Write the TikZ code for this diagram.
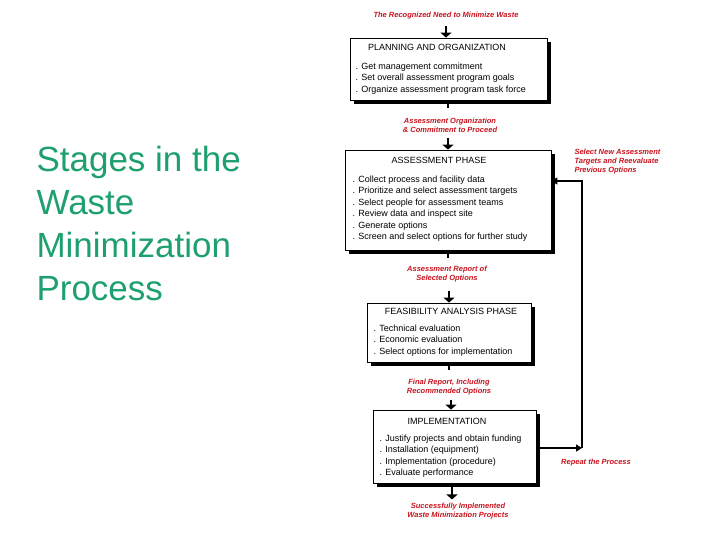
\documentclass[tikz,border=0pt]{standalone}
\usepackage{fontspec}
\setmainfont{Liberation Sans}
\usetikzlibrary{arrows.meta}
\definecolor{lab}{RGB}{200,20,30}
\definecolor{ttl}{RGB}{30,160,110}
\begin{document}
\begin{tikzpicture}[x=1pt,y=-1pt,
  phase/.style={draw,line width=0.8pt,fill=white,inner sep=0pt},
  lab/.style={text=lab,font=\fontsize{7.5}{9}\selectfont\bfseries\itshape,align=center},
  item/.style={font=\fontsize{9}{11.5}\selectfont,align=left,anchor=north west},
  hd/.style={font=\fontsize{9}{10}\selectfont,anchor=north},
  bar/.style={line width=2.4pt,-{Triangle[length=5pt,width=11pt]}},
  fb/.style={line width=1.3pt,-{Triangle[length=6pt,width=7pt]}}]
\useasboundingbox (0,0) rectangle (720,540);
% shadows
\foreach \a/\b/\c/\d in {350/38/547/100,345/150/551/250,367/303/531/362,373/410/536/483}
  \fill (\a+4,\b+4) rectangle (\c+4,\d+4);
\node[phase,minimum width=197pt,minimum height=62pt] (p1) at (448.5,69) {};
\node[phase,minimum width=206pt,minimum height=100pt] (p2) at (448,200) {};
\node[phase,minimum width=164pt,minimum height=59pt] (p3) at (449,332.5) {};
\node[phase,minimum width=163pt,minimum height=73pt] (p4) at (454.5,446.5) {};
\node[hd] (h1) at (437,41) {PLANNING AND ORGANIZATION};
\node[item] (i1) at (352,59) {. Get management commitment\\. Set overall assessment program goals\\. Organize assessment program task force};
\node[hd] (h2) at (439,154) {ASSESSMENT PHASE};
\node[item] (i2) at (349,172) {. Collect process and facility data\\. Prioritize and select assessment targets\\. Select people for assessment teams\\. Review data and inspect site\\. Generate options\\. Screen and select options for further study};
\node[hd] (h3) at (451,305) {FEASIBILITY ANALYSIS PHASE};
\node[item] (i3) at (370,321) {. Technical evaluation\\. Economic evaluation\\. Select options for implementation};
\node[hd] (h4) at (447,415) {IMPLEMENTATION};
\node[item] (i4) at (376,431) {. Justify projects and obtain funding\\. Installation (equipment)\\. Implementation (procedure)\\. Evaluate performance};
\node[lab] (l0) at (446,16) {The Recognized Need to Minimize Waste};
\node[lab] (l1) at (450,125) {Assessment Organization\\\& Commitment to Proceed};
\node[lab] (l2) at (447,274) {Assessment Report of\\Selected Options};
\node[lab] (l3) at (449,387) {Final Report, Including\\Recommended Options};
\node[lab] (l4) at (458,511) {Successfully Implemented\\Waste Minimization Projects};
\node[lab,align=left,anchor=west] (l5) at (571,162) {Select New Assessment\\Targets and Reevaluate\\Previous Options};
\node[lab] (l6) at (596,463) {Repeat the Process};
\coordinate (a0) at (446,26);
\coordinate (a1) at (448,138);
\coordinate (a2) at (449,291);
\coordinate (a3) at (451,400);
\coordinate (a4) at (452,487);
\draw[bar] (a0) -- (a0 |- p1.north);
\draw[line width=2.4pt] (p1.south -| 448,0) ++(0,4) -- ++(0,4);
\draw[bar] (a1) -- (a1 |- p2.north);
\draw[line width=2.4pt] (p2.south -| 448,0) ++(0,4) -- ++(0,4);
\draw[bar] (a2) -- (a2 |- p3.north);
\draw[line width=2.4pt] (p3.south -| 449,0) ++(0,4) -- ++(0,4);
\draw[bar] (a3) -- (a3 |- p4.north);
\draw[bar] (a4) -- (a4 |- l4.north);
\coordinate (c1) at (582,448);
\coordinate (c2) at (582,181);
\draw[fb] (p4.east |- c1) ++(4,0) -- (c1);
\draw[fb] (c1) -- (c2) -- (p2.east |- c2);
\node[text=ttl,font=\fontsize{35}{43}\selectfont,align=left,anchor=north west] (t) at (33,143) {Stages in the\\Waste\\Minimization\\Process};
\end{tikzpicture}
\end{document}
